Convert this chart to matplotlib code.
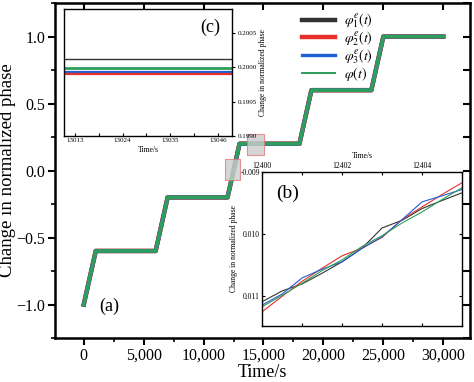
import matplotlib
matplotlib.use("Agg")
import matplotlib.pyplot as plt
from matplotlib.patches import Rectangle
from matplotlib.lines import Line2D
from matplotlib.ticker import FuncFormatter, MultipleLocator, FixedLocator

plt.rcParams['font.family'] = ['Liberation Serif', 'DejaVu Serif']
plt.rcParams['mathtext.fontset'] = 'stix'

# ---- main panel data (a) ----
t_main = [0, 1000, 6000, 7000, 12000, 13000, 18000, 19000, 24000, 25000, 30000]
phi_main = [-1.0, -0.6, -0.6, -0.2, -0.2, 0.2, 0.2, 0.6, 0.6, 1.0, 1.0]

# ---- inset (b) data ----
t_b = [12400, 12400.5, 12401, 12401.5, 12402, 12402.5, 12403, 12403.5, 12404, 12404.5, 12405]
phi1_b = [-0.011091, -0.010918, -0.010805, -0.010632, -0.010448, -0.010227,
          -0.009903, -0.009779, -0.009590, -0.009460, -0.009336]
phi2_b = [-0.011253, -0.011005, -0.010762, -0.010551, -0.010351, -0.010227,
          -0.010054, -0.009768, -0.009563, -0.009363, -0.009174]
phi3_b = [-0.011145, -0.010967, -0.010708, -0.010567, -0.010448, -0.010232,
          -0.010043, -0.009768, -0.009482, -0.009385, -0.009282]
phi_b = [-0.011172, -0.010988, -0.010794, -0.010589, -0.010416, -0.010200,
         -0.010027, -0.009822, -0.009644, -0.009444, -0.009255]
b_xticks = [12400, 12402, 12404]
b_yticks = [-0.009, -0.010, -0.011]
b_yticklabels = ['-0.009', '0.010', '0.011']

# ---- inset (c) data ----
t_c = [13010, 13050]
phi1_c = [0.20012, 0.20012]
phi2_c = [0.19991, 0.19991]
phi3_c = [0.19994, 0.19994]
phi_c = [0.19999, 0.19999]
c_xticks = [13013, 13024, 13035, 13046]
c_yticks = [0.1990, 0.1995, 0.2000, 0.2005]

labels = [r'$\varphi_1^{e}(t)$', r'$\varphi_2^{e}(t)$', r'$\varphi_3^{e}(t)$', r'$\varphi(t)$']
c_black, c_red, c_blue, c_green = '#333333', '#e8302a', '#1f5fd6', '#2e9e5b'

fig = plt.figure(figsize=(4.74, 3.82), dpi=100)
ax = fig.add_axes([0.116, 0.115, 0.876, 0.877])

ax.plot(t_main, phi_main, color='#5a5a5a', lw=3.2)
ax.plot(t_main, phi_main, color=c_red, lw=3.2)
ax.plot(t_main, phi_main, color=c_blue, lw=2.8)
ax.plot(t_main, phi_main, color=c_green, lw=2.6)

ax.set_xlim(-2400, 32250)
ax.set_ylim(-1.25, 1.25)
ax.xaxis.set_major_locator(MultipleLocator(5000))
ax.xaxis.set_minor_locator(MultipleLocator(2500))
ax.yaxis.set_major_locator(MultipleLocator(0.5))
ax.yaxis.set_minor_locator(MultipleLocator(0.25))
ax.xaxis.set_major_formatter(FuncFormatter(lambda v, p: f'{int(v):,}'))
ax.yaxis.set_major_formatter(FuncFormatter(lambda v, p: f'{v:.1f}'.replace('-', '\u2212')))
ax.tick_params(which='major', direction='out', length=5, width=1.5, labelsize=11.5, pad=2)
ax.tick_params(which='minor', direction='out', length=3, width=1.2)
for s in ax.spines.values():
    s.set_linewidth(1.8)
ax.set_xlabel('Time/s', fontsize=13, labelpad=0)
ax.set_ylabel('Change in normalized phase', fontsize=13.5)
ax.yaxis.set_label_coords(-0.094, 0.5)

sx = ax.secondary_xaxis('top')
sx.xaxis.set_major_locator(MultipleLocator(5000))
sx.tick_params(direction='in', length=5, width=1.5, labeltop=False)
sy = ax.secondary_yaxis('right')
sy.yaxis.set_major_locator(MultipleLocator(0.25))
sy.tick_params(direction='in', length=5, width=1.5, labelright=False)

handles = [Line2D([], [], color=c_black, lw=3.2), Line2D([], [], color=c_red, lw=3.2),
           Line2D([], [], color=c_blue, lw=2.4), Line2D([], [], color=c_green, lw=1.4)]
leg = ax.legend(handles, labels, loc='upper left', bbox_to_anchor=(0.575, 1.0), frameon=False,
                fontsize=10, handlelength=2.4, labelspacing=-0.05, handletextpad=0.6,
                borderaxespad=0.2)

ax.text(1300, -1.05, '(a)', fontsize=13)

# zoom rectangles
ax.add_patch(Rectangle((13620, 0.119), 1420, 0.156, facecolor='#cccccc', edgecolor='#e07a7a',
                       lw=0.8, alpha=0.8, zorder=5))
ax.add_patch(Rectangle((11780, -0.074), 1250, 0.163, facecolor='#cccccc', edgecolor='#e07a7a',
                       lw=0.8, alpha=0.8, zorder=5))

# ---- inset (c) ----
axc = fig.add_axes([0.135, 0.644, 0.354, 0.332])
axc.plot(t_c, phi1_c, color=c_black, lw=1.0)
axc.plot(t_c, phi_c, color=c_green, lw=2.0)
axc.plot(t_c, phi3_c, color=c_blue, lw=1.6)
axc.plot(t_c, phi2_c, color=c_red, lw=1.6)
axc.set_xlim(13010.5, 13049.2)
axc.set_ylim(0.1990, 0.20085)
axc.xaxis.set_major_locator(FixedLocator(c_xticks))
axc.xaxis.set_minor_locator(MultipleLocator(5.5))
axc.yaxis.set_major_locator(FixedLocator(c_yticks))
axc.yaxis.tick_right()
axc.yaxis.set_label_position('right')
axc.yaxis.set_major_formatter(FuncFormatter(lambda v, p: f'{v:.4f}'))
axc.xaxis.set_major_formatter(FuncFormatter(lambda v, p: f'{int(round(v))}'))
axc.tick_params(which='both', direction='in', labelsize=5, length=2.5, width=0.8, pad=1.5)
axc.tick_params(axis='y', direction='out')
axc.set_xlabel('Time/s', fontsize=5.5, labelpad=2)
axc.set_ylabel('Change in normalized phase', fontsize=5.5, labelpad=2)
axc.text(0.93, 0.82, '(c)', transform=axc.transAxes, fontsize=13, ha='right')
for s in axc.spines.values():
    s.set_linewidth(1.0)

# ---- inset (b) ----
axb = fig.add_axes([0.553, 0.147, 0.422, 0.403])
axb.plot(t_b, phi1_b, color=c_black, lw=0.8)
axb.plot(t_b, phi2_b, color=c_red, lw=0.8)
axb.plot(t_b, phi3_b, color=c_blue, lw=0.8)
axb.plot(t_b, phi_b, color=c_green, lw=0.8)
axb.set_xlim(12400, 12405)
axb.set_ylim(-0.01148, -0.00900)
axb.xaxis.set_major_locator(FixedLocator(b_xticks))
axb.xaxis.set_minor_locator(MultipleLocator(1))
axb.xaxis.set_major_formatter(FuncFormatter(lambda v, p: f'{int(round(v))}'))
axb.xaxis.tick_top()
axb.xaxis.set_label_position('top')
axb.yaxis.set_major_locator(FixedLocator(b_yticks))
axb.set_yticklabels(b_yticklabels)
axb.tick_params(which='both', direction='in', labelsize=5.5, length=2.5, width=0.8, pad=1.5,
                bottom=True, top=True, left=True, right=True)
axb.set_xlabel('Time/s', fontsize=5.5, labelpad=3)
axb.set_ylabel('Change in normalized phase', fontsize=5.5, labelpad=2)
axb.text(0.07, 0.83, '(b)', transform=axb.transAxes, fontsize=14)
for s in axb.spines.values():
    s.set_linewidth(1.0)

fig.savefig('out.png', dpi=100)
